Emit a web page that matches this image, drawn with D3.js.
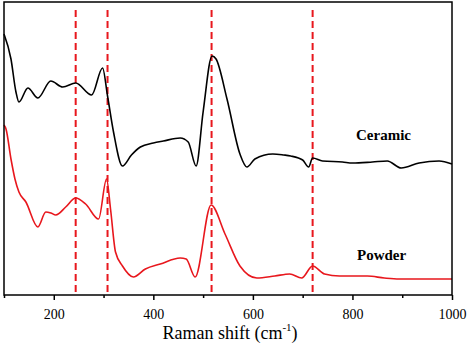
<!DOCTYPE html>
<html>
<head>
<meta charset="utf-8">
<script src="https://cdn.jsdelivr.net/npm/d3@7"></script>
<style>
  html, body { margin: 0; padding: 0; background: #fff; }
  svg { display: block; }
  svg text { font-family: "Liberation Serif", "Times New Roman", serif; }
</style>
</head>
<body>
<svg id="chart" width="474" height="343"></svg>
<script>
// Raman spectra: sintered ceramic vs. starting powder (intensity in arbitrary units)
const ceramicShift = [100, 114, 124, 130, 148, 168, 194, 218, 244, 276, 298, 308, 320, 338, 356, 374, 400, 420, 454, 470, 486, 500, 518, 526, 548, 574, 588, 604, 640, 662, 676, 700, 712, 720, 740, 780, 800, 840, 870, 898, 934, 974, 1000];
const ceramicIntensity = [261, 236, 203, 193, 207, 197, 214, 208, 212, 200, 227, 199, 163, 129, 140, 148, 152, 154, 157, 153, 129, 183, 239, 236, 196, 141, 128, 136, 141, 140, 139, 135, 128, 137, 134, 133, 132, 133, 134, 127, 132, 134, 131];

const powderShift = [100, 104, 114, 122, 130, 144, 168, 184, 194, 204, 224, 244, 264, 290, 306, 314, 324, 338, 360, 384, 414, 454, 466, 484, 516, 544, 574, 608, 644, 674, 698, 720, 744, 774, 830, 864, 894, 1000];
const powderIntensity = [170, 166, 136, 116, 103, 93, 68, 83, 82, 80, 88, 97, 91, 76, 116, 86, 43, 29, 18, 26, 31, 37, 36, 18, 90, 61, 29, 17, 19, 21, 17, 29, 21, 19, 19, 17, 16, 16];

const peakPositions = [244, 308, 517, 720];
const xTicks = [200, 400, 600, 800, 1000];
const xMinorTicks = [100, 300, 500, 700, 900];
const seriesLabels = ["Ceramic", "Powder"];

const svg = d3.select("#chart");
const plotLeft = 4, plotRight = 452, plotTop = 2, plotBottom = 295;

const x = d3.scaleLinear().domain([100, 1000]).range([plotLeft, plotRight]);
const y = d3.scaleLinear().domain([0, 293]).range([plotBottom, plotTop]);

const red = "#e8171d";
const serif = "Liberation Serif";

// dashed markers at the characteristic bands
svg.append("g").selectAll("line").data(peakPositions).join("line")
  .attr("x1", d => x(d)).attr("x2", d => x(d))
  .attr("y1", y(285)).attr("y2", plotBottom)
  .attr("stroke", red).attr("stroke-width", 2)
  .attr("stroke-dasharray", "7,4");

const line = d3.line().curve(d3.curveMonotoneX)
  .x(d => x(d[0])).y(d => y(d[1]));

const ceramic = ceramicShift.map((s, i) => [s, ceramicIntensity[i]]);
const powder = powderShift.map((s, i) => [s, powderIntensity[i]]);

svg.append("path").datum(ceramic).attr("d", line)
  .attr("fill", "none").attr("stroke", "#000").attr("stroke-width", 1.6);
svg.append("path").datum(powder).attr("d", line)
  .attr("fill", "none").attr("stroke", red).attr("stroke-width", 1.6);

// frame
svg.append("rect")
  .attr("x", plotLeft).attr("y", plotTop)
  .attr("width", plotRight - plotLeft).attr("height", plotBottom - plotTop)
  .attr("fill", "none").attr("stroke", "#000").attr("stroke-width", 1.5);

// bottom axis
const axis = svg.append("g").attr("transform", `translate(0,${plotBottom})`)
  .call(d3.axisBottom(x).tickValues(xTicks).tickSize(5).tickPadding(9).tickFormat(d3.format("d")));
axis.attr("font-family", null);
axis.select(".domain").remove();
axis.selectAll("line").attr("stroke-width", 1.5);
axis.selectAll("text").style("font-family", serif).attr("font-size", 14).attr("fill", "#000");

svg.append("g").attr("transform", `translate(0,${plotBottom})`)
  .call(d3.axisBottom(x).tickValues(xMinorTicks).tickSize(3).tickFormat(""))
  .call(g => g.select(".domain").remove())
  .selectAll("line").attr("stroke-width", 1.5);

// axis title
const title = svg.append("text")
  .attr("x", (plotLeft + plotRight) / 2 + 2).attr("y", 339)
  .attr("text-anchor", "middle")
  .style("font-family", serif).attr("font-size", 18);
title.append("tspan").text("Raman shift (cm");
title.append("tspan").attr("dy", -8).attr("font-size", 11).text("-1");
title.append("tspan").attr("dy", 8).text(")");

// series labels
svg.append("text").attr("x", 356).attr("y", 140)
  .style("font-family", serif).attr("font-size", 15).attr("font-weight", "bold")
  .text(seriesLabels[0]);
svg.append("text").attr("x", 357).attr("y", 260)
  .style("font-family", serif).attr("font-size", 15).attr("font-weight", "bold")
  .text(seriesLabels[1]);
</script>
</body>
</html>
